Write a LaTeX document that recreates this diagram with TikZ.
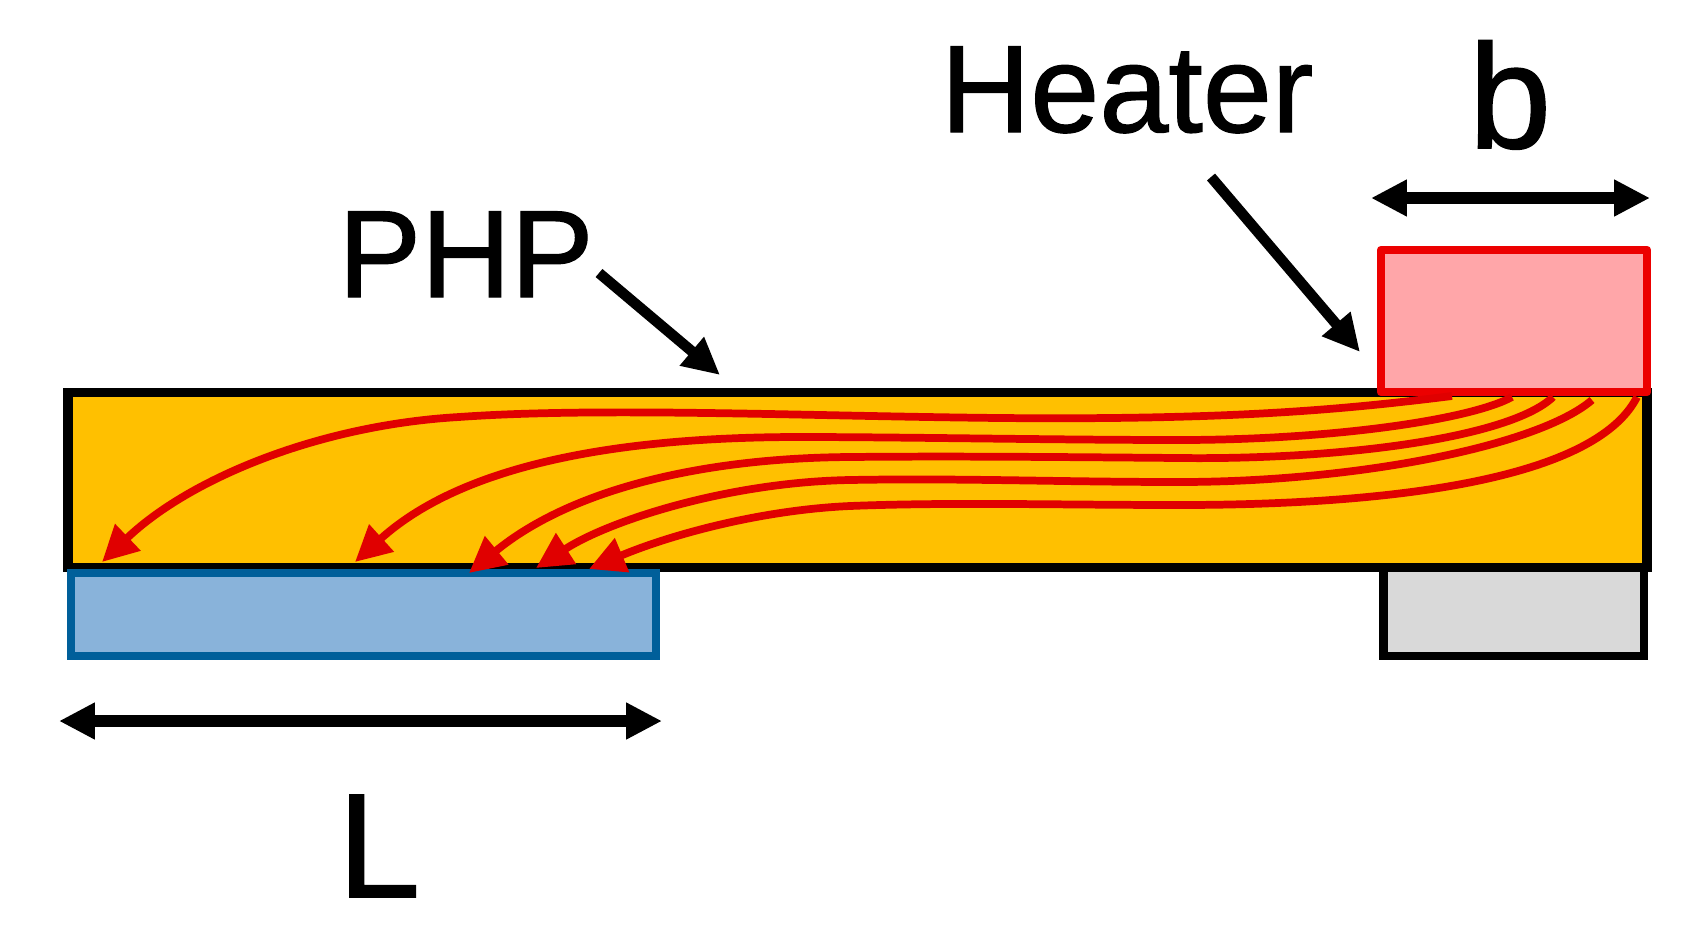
\documentclass[tikz,border=0pt]{standalone}
\usepackage{fontspec}
\setmainfont{Liberation Sans}
\newfontfamily\labelfont[FakeBold=1]{Liberation Sans}
\usetikzlibrary{arrows.meta}

\definecolor{phpfill}{HTML}{FFC000}
\definecolor{heatred}{HTML}{E00000}
\definecolor{heaterline}{HTML}{EC0000}
\definecolor{heaterfill}{HTML}{FFA6A9}
\definecolor{sinkfill}{HTML}{89B3DA}
\definecolor{sinkline}{HTML}{005F9A}
\definecolor{basefill}{HTML}{D9D9D9}

\tikzset{
  heatflow/.style={heatred,line width=2.2pt,-{Triangle[length=10.2pt,width=10pt]}},
  pointer/.style={black,line width=3pt,-{Triangle[length=10.5pt,width=10pt]}},
  span/.style={black,line width=3.4pt,{Triangle[length=10.2pt,width=9.8pt]}-{Triangle[length=10.2pt,width=9.8pt]}},
  smalltext/.style={inner sep=0pt,anchor=base,font=\labelfont\fontsize{35.3}{40}\selectfont},
  bigtext/.style={inner sep=0pt,anchor=base,font=\labelfont\fontsize{42.2}{48}\selectfont},
}

\begin{document}
\begin{tikzpicture}[x=0.01cm,y=-0.01cm]
\useasboundingbox (0,0) rectangle (1700,951);
\draw[line width=2.4pt,fill=basefill] (1383.5,560)--(1383.5,656)--(1644,656)--(1644,560);
\draw[line width=2.6pt,fill=phpfill] (68,392.5) rectangle (1647,567.5);
\draw[line width=2.5pt,draw=sinkline,fill=sinkfill] (71,573) rectangle (656,656);
\draw[line width=2.4pt,draw=heaterline,fill=heaterfill,line join=round] (1381,250) rectangle (1647,392);
% heat paths, heater to sink
\draw[heatflow] (1452,396) .. controls (1340,410) and (1230,420) .. (1000,418)
  .. controls (800,416) and (600,407) .. (459,417)
  .. controls (320,425) and (190,478) .. (102,562);
\draw[heatflow] (1512,397) .. controls (1470,420) and (1330,440) .. (1179,440)
  .. controls (1060,440) and (900,437) .. (800,437)
  .. controls (640,437) and (470,458) .. (355,562);
\draw[heatflow] (1553,397) .. controls (1510,438) and (1340,460) .. (1179,458)
  .. controls (1060,457) and (950,456) .. (850,457)
  .. controls (700,458) and (570,490) .. (469,573);
\draw[heatflow] (1592,400) .. controls (1540,445) and (1360,482) .. (1179,482)
  .. controls (1060,482) and (960,478) .. (850,480)
  .. controls (730,482) and (610,520) .. (536,568);
\draw[heatflow] (1637,397) .. controls (1595,480) and (1390,505) .. (1179,505)
  .. controls (1060,505) and (950,502) .. (850,506)
  .. controls (760,510) and (670,535) .. (589,569);
% labels
\node[smalltext] (phplabel) at (466,297) {PHP};
\node[smalltext] (heaterlabel) at (1127,132) {Heater};
\node[bigtext] (blabel) at (1510,148) {b};
\node[bigtext] (llabel) at (379,897) {L};
% arrows
\coordinate (phptail) at (599,273);
\coordinate (phptip) at (720,375);
\coordinate (heatertail) at (1211,177);
\coordinate (heatertip) at (1360,352);
\coordinate (bleft) at (1371,198);
\coordinate (bright) at (1650,198);
\coordinate (lleft) at (59,721);
\coordinate (lright) at (662,721);
\draw[pointer] (phptail)--(phptip);
\draw[pointer] (heatertail)--(heatertip);
\draw[span] (bleft)--(bright);
\draw[span] (lleft)--(lright);
\end{tikzpicture}
\end{document}
